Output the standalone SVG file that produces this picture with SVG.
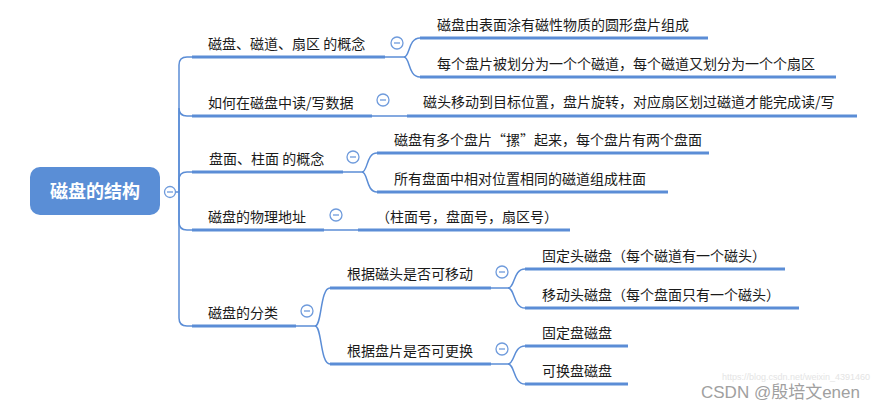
<svg xmlns="http://www.w3.org/2000/svg" width="882" height="410" viewBox="0 0 882 410">
<style>
.t{font-family:"Noto Sans CJK SC","Noto Sans",sans-serif;font-size:14px;fill:#1a1a1a}
.u{stroke:#5b8dd6;stroke-width:3;fill:none}
.c{stroke:#5b8dd6;stroke-width:1.5;fill:none}
.col circle{fill:#fff;stroke:#6f9bdc;stroke-width:1.3}
.col line{stroke:#6f9bdc;stroke-width:1.3}
</style>
<rect width="882" height="410" fill="#fff"/>
<g id="connectors">
<path class="c" d="M175,192 H179 V65 Q179,57 187,57 H192"/>
<path class="c" d="M179,192 V108 Q179,116 187,116 H192"/>
<path class="c" d="M179,192 V180 Q179,172 187,172 H192"/>
<path class="c" d="M179,192 V222 Q179,230 187,230 H192"/>
<path class="c" d="M179,192 V318 Q179,326 187,326 H192"/>
<path class="c" d="M385,57 H404 C410,57 408,38 420,38"/>
<path class="c" d="M404,57 C410,57 408,77 420,77"/>
<path class="c" d="M372,116 H407"/>
<path class="c" d="M343,172 H362 C368,172 366,153 377,153"/>
<path class="c" d="M362,172 C368,172 366,192 377,192"/>
<path class="c" d="M324,230 H358"/>
<path class="c" d="M296,326 H315 C322,326 320,288 330,288"/>
<path class="c" d="M315,326 C322,326 320,364 330,364"/>
<path class="c" d="M491,288 H508 C515,288 513,269 525,269"/>
<path class="c" d="M508,288 C515,288 513,308 525,308"/>
<path class="c" d="M491,364 H508 C515,364 513,346 525,346"/>
<path class="c" d="M508,364 C515,364 513,384 525,384"/>
</g>
<g id="root">
<rect x="30" y="167" width="130" height="48" rx="10" fill="#5a8ed6"/>
<text x="95" y="198" text-anchor="middle" font-family="Noto Sans CJK SC,sans-serif" font-size="18" font-weight="bold" fill="#fff">磁盘的结构</text>
<g class="col"><circle cx="170" cy="192" r="5.5"/><line x1="167" y1="192" x2="173" y2="192"/></g>
</g>
<g id="n1">
<line class="u" x1="192" y1="57" x2="385" y2="57"/>
<text class="t" x="208" y="49">磁盘、磁道、扇区 的概念</text>
<g class="col"><circle cx="397" cy="43" r="6"/><line x1="394" y1="43" x2="400" y2="43"/></g>
</g>
<g id="n1a">
<line class="u" x1="420" y1="38" x2="708" y2="38"/>
<text class="t" x="437" y="30">磁盘由表面涂有磁性物质的圆形盘片组成</text>
</g>
<g id="n1b">
<line class="u" x1="420" y1="77" x2="836" y2="77"/>
<text class="t" x="437" y="69">每个盘片被划分为一个个磁道，每个磁道又划分为一个个扇区</text>
</g>
<g id="n2">
<line class="u" x1="192" y1="116" x2="372" y2="116"/>
<text class="t" x="208" y="108">如何在磁盘中读/写数据</text>
<g class="col"><circle cx="383" cy="100" r="6"/><line x1="380" y1="100" x2="386" y2="100"/></g>
</g>
<g id="n2a">
<line class="u" x1="407" y1="116" x2="857" y2="116"/>
<text class="t" x="423" y="107">磁头移动到目标位置，盘片旋转，对应扇区划过磁道才能完成读/写</text>
</g>
<g id="n3">
<line class="u" x1="192" y1="172" x2="343" y2="172"/>
<text class="t" x="209" y="164">盘面、柱面 的概念</text>
<g class="col"><circle cx="353" cy="157" r="6"/><line x1="350" y1="157" x2="356" y2="157"/></g>
</g>
<g id="n3a">
<line class="u" x1="377" y1="153" x2="709" y2="153"/>
<text class="t" x="394" y="145">磁盘有多个盘片“摞”起来，每个盘片有两个盘面</text>
</g>
<g id="n3b">
<line class="u" x1="377" y1="192" x2="668" y2="192"/>
<text class="t" x="394" y="184">所有盘面中相对位置相同的磁道组成柱面</text>
</g>
<g id="n4">
<line class="u" x1="192" y1="230" x2="324" y2="230"/>
<text class="t" x="208" y="222">磁盘的物理地址</text>
<g class="col"><circle cx="336" cy="215" r="6"/><line x1="333" y1="215" x2="339" y2="215"/></g>
</g>
<g id="n4a">
<line class="u" x1="358" y1="230" x2="570" y2="230"/>
<text class="t" x="376" y="222">（柱面号，盘面号，扇区号）</text>
</g>
<g id="n5">
<line class="u" x1="192" y1="326" x2="296" y2="326"/>
<text class="t" x="208" y="318">磁盘的分类</text>
<g class="col"><circle cx="307" cy="311" r="6"/><line x1="304" y1="311" x2="310" y2="311"/></g>
</g>
<g id="n5a">
<line class="u" x1="330" y1="288" x2="491" y2="288"/>
<text class="t" x="347" y="279">根据磁头是否可移动</text>
<g class="col"><circle cx="502" cy="272" r="6"/><line x1="499" y1="272" x2="505" y2="272"/></g>
</g>
<g id="n5a1">
<line class="u" x1="525" y1="269" x2="785" y2="269"/>
<text class="t" x="542" y="261">固定头磁盘（每个磁道有一个磁头）</text>
</g>
<g id="n5a2">
<line class="u" x1="525" y1="308" x2="799" y2="308"/>
<text class="t" x="542" y="300">移动头磁盘（每个盘面只有一个磁头）</text>
</g>
<g id="n5b">
<line class="u" x1="330" y1="364" x2="491" y2="364"/>
<text class="t" x="347" y="356">根据盘片是否可更换</text>
<g class="col"><circle cx="502" cy="349" r="6"/><line x1="499" y1="349" x2="505" y2="349"/></g>
</g>
<g id="n5b1">
<line class="u" x1="525" y1="346" x2="628" y2="346"/>
<text class="t" x="542" y="338">固定盘磁盘</text>
</g>
<g id="n5b2">
<line class="u" x1="525" y1="384" x2="628" y2="384"/>
<text class="t" x="542" y="376">可换盘磁盘</text>
</g>
<g id="watermark">
<text x="722" y="380" font-family="Liberation Sans,sans-serif" font-size="9" fill="#e4e4e4">https://blog.csdn.net/weixin_4391460</text>
<text x="701" y="398" font-family="Liberation Sans,Noto Sans CJK SC,sans-serif" font-size="17" fill="#a0a0a0">CSDN @殷培文enen</text>
</g>
</svg>
